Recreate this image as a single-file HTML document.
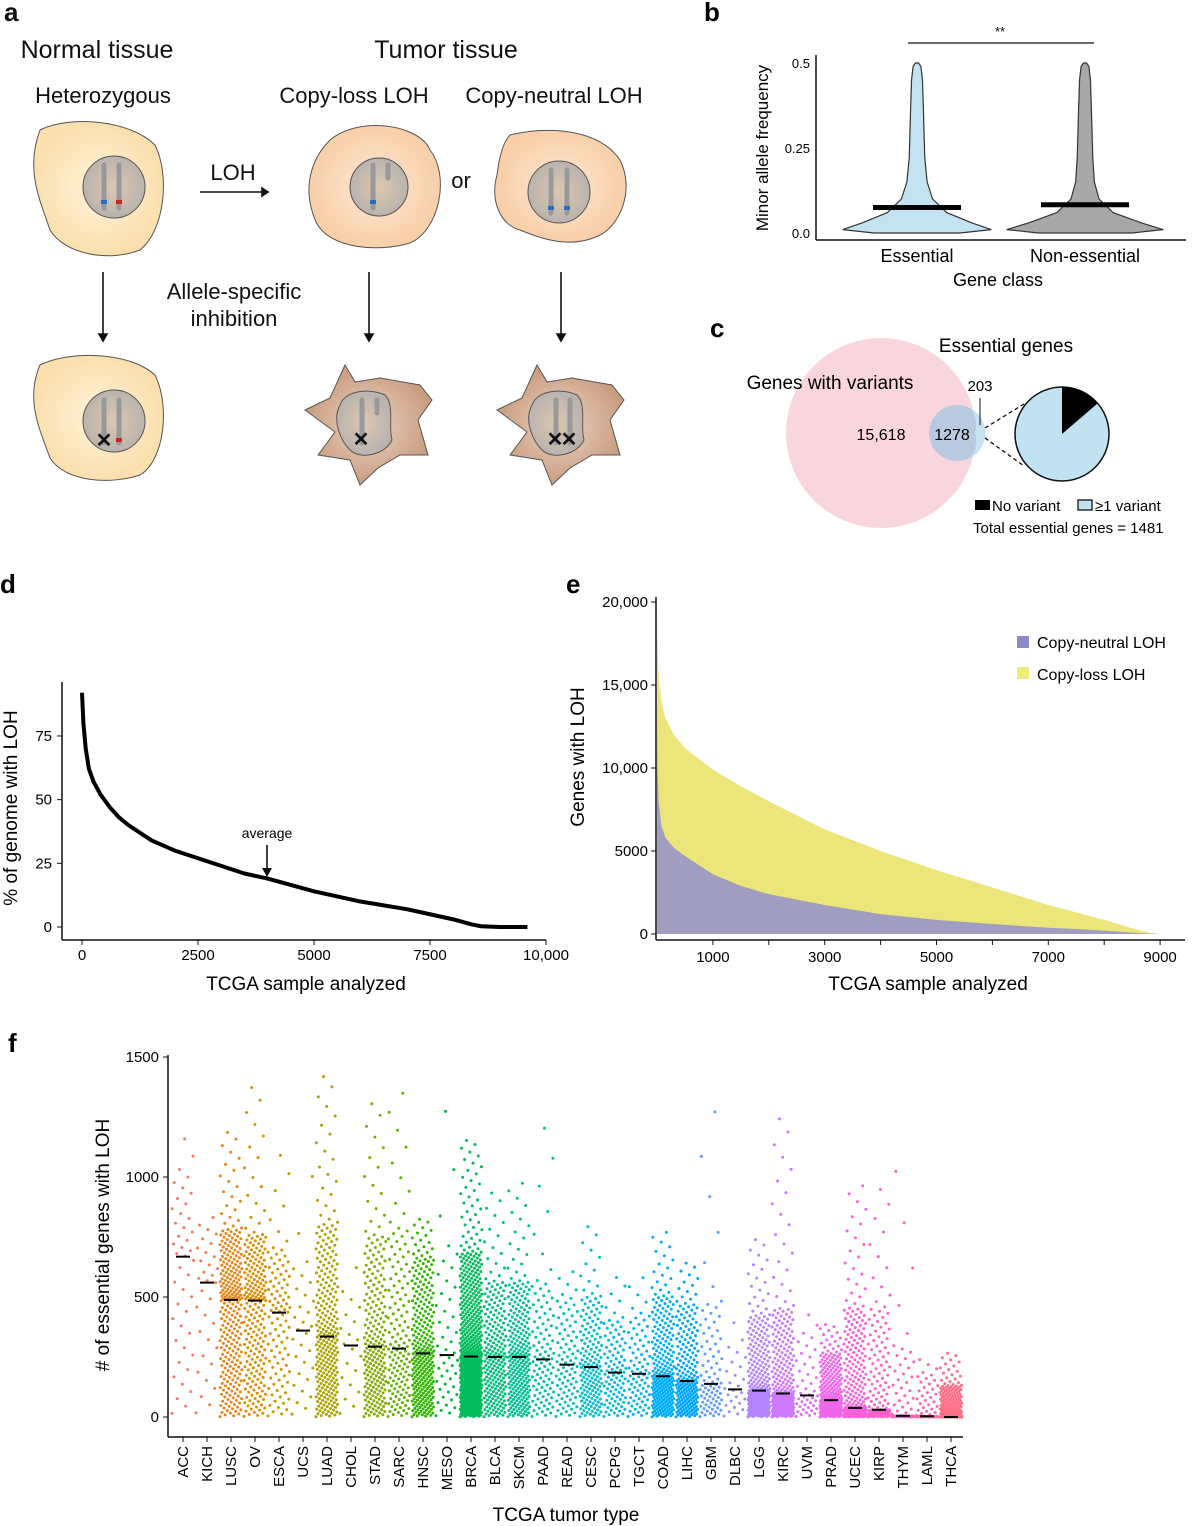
<!DOCTYPE html>
<html><head><meta charset="utf-8"><style>
body{margin:0;background:#fff}
svg{display:block;font-family:"Liberation Sans",Arial,sans-serif}
</style></head><body>
<svg id="fig" width="1200" height="1526" viewBox="0 0 1200 1526">
<defs>
<radialGradient id="gN"><stop offset="0" stop-color="#fff3da"/><stop offset="1" stop-color="#fbdfae"/></radialGradient>
<radialGradient id="gT"><stop offset="0" stop-color="#fde8d6"/><stop offset="1" stop-color="#f8cfa8"/></radialGradient>
<radialGradient id="gS"><stop offset="0" stop-color="#ecd3c2"/><stop offset="1" stop-color="#c99d80"/></radialGradient>
<radialGradient id="gNu"><stop offset="0" stop-color="#dcc8b0"/><stop offset="1" stop-color="#b9b3ad"/></radialGradient>
</defs>
<g id="panel-a" font-size="25" fill="#111">
<text x="4" y="21" font-weight="bold" font-size="26">a</text>
<text x="97" y="58" text-anchor="middle">Normal tissue</text>
<text x="446" y="58" text-anchor="middle">Tumor tissue</text>
<text x="103" y="103" text-anchor="middle" font-size="22">Heterozygous</text>
<text x="354" y="103" text-anchor="middle" font-size="22">Copy-loss LOH</text>
<text x="554" y="103" text-anchor="middle" font-size="22">Copy-neutral LOH</text>
<text x="233" y="180" text-anchor="middle" font-size="22">LOH</text>
<text x="461" y="188" text-anchor="middle" font-size="22">or</text>
<text x="234" y="299" text-anchor="middle" font-size="22">Allele-specific</text>
<text x="234" y="326" text-anchor="middle" font-size="22">inhibition</text>
<g stroke="#111" stroke-width="1.6" fill="none">
<line x1="200" y1="192" x2="262" y2="192"/><path d="M262 188 L268 192 L262 196Z" fill="#111"/>
<line x1="103" y1="272" x2="103" y2="336"/><path d="M99 334 L103 341 L107 334Z" fill="#111"/>
<line x1="369" y1="272" x2="369" y2="336"/><path d="M365 334 L369 341 L373 334Z" fill="#111"/>
<line x1="561" y1="272" x2="561" y2="336"/><path d="M557 334 L561 341 L565 334Z" fill="#111"/>
</g>
<g stroke="#555" stroke-width="1">
<path d="M40 130 C70 115 130 120 155 145 C170 175 165 230 140 250 C110 262 65 255 50 230 C40 200 25 170 40 130Z" fill="url(#gN)"/>
<path d="M330 140 C360 115 420 125 430 150 C450 175 440 230 410 243 C380 252 330 250 316 222 C302 190 310 160 330 140Z" fill="url(#gT)"/>
<path d="M510 135 C550 125 600 130 620 160 C635 190 620 225 600 235 C570 250 540 238 520 230 C500 225 490 200 497 175 C500 150 505 140 510 135Z" fill="url(#gT)"/>
<path d="M40 365 C70 350 130 352 155 375 C170 405 165 460 140 475 C110 485 65 482 50 458 C40 430 25 400 40 365Z" fill="url(#gN)"/>
<path d="M345 365 L355 382 L380 378 L420 385 L432 400 L418 420 L428 455 L400 455 L378 468 L360 485 L350 460 L318 455 L335 432 L305 410 L330 398Z" fill="url(#gS)"/>
<path d="M537 365 L547 382 L572 378 L612 385 L624 400 L610 420 L620 455 L592 455 L570 468 L552 485 L542 460 L510 455 L527 432 L497 410 L522 398Z" fill="url(#gS)"/>
<g fill="url(#gNu)">
<circle cx="114" cy="187" r="31"/><circle cx="379" cy="187" r="29"/><circle cx="559" cy="192" r="31"/><circle cx="114" cy="421" r="31"/>
<path d="M340 405 C345 390 370 388 385 395 C395 405 388 425 392 440 C385 455 360 460 350 450 C340 440 332 420 340 405Z"/>
<path d="M532 405 C537 390 562 388 577 395 C587 405 580 425 584 440 C577 455 552 460 542 450 C532 440 524 420 532 405Z"/>
</g></g>
<g stroke="#999" stroke-width="5" stroke-linecap="round">
<line x1="104" y1="165" x2="104" y2="208"/><line x1="119" y1="165" x2="119" y2="208"/>
<line x1="373" y1="165" x2="373" y2="208"/><line x1="388" y1="165" x2="388" y2="178"/>
<line x1="551" y1="170" x2="551" y2="213"/><line x1="567" y1="170" x2="567" y2="213"/>
<line x1="104" y1="400" x2="104" y2="443"/><line x1="119" y1="400" x2="119" y2="443"/>
<line x1="362" y1="400" x2="362" y2="443"/><line x1="377" y1="400" x2="377" y2="413"/>
<line x1="556" y1="400" x2="556" y2="443"/><line x1="570" y1="400" x2="570" y2="443"/>
</g>
<g><rect x="101" y="200" width="6" height="4" fill="#2a6bc4"/><rect x="116" y="200" width="6" height="4" fill="#d42020"/>
<rect x="370" y="200" width="6" height="4" fill="#2a6bc4"/>
<rect x="548" y="206" width="6" height="4" fill="#2a6bc4"/><rect x="564" y="206" width="6" height="4" fill="#2a6bc4"/>
<rect x="116" y="438" width="6" height="4" fill="#d42020"/></g>
<g font-size="20" text-anchor="middle" font-weight="bold"><text x="104" y="447">✕</text><text x="361" y="446">✕</text><text x="555" y="446">✕</text><text x="569" y="446">✕</text></g>
</g>

<g id="panel-b"></g>
<g id="panel-c"></g>
<g id="panel-d"></g>
<g id="panel-e"></g>
<g id="panel-f"></g>
</svg>
<script>
const NS="http://www.w3.org/2000/svg";
function mk(p,t,a,txt){const e=document.createElementNS(NS,t);for(const k in a)e.setAttribute(k,a[k]);if(txt!==undefined)e.textContent=txt;p.appendChild(e);return e;}

// ---------- Panel b data ----------
const bClasses=["Essential","Non-essential"];
const bMedians=[0.075,0.083];
const bProfileY=[0,0.01,0.03,0.06,0.1,0.15,0.22,0.3,0.38,0.45,0.49,0.5];
const bProfileW1=[0.55,0.95,0.7,0.38,0.2,0.13,0.1,0.09,0.08,0.07,0.05,0.02];
const bProfileW2=[0.6,1.0,0.72,0.36,0.18,0.12,0.1,0.09,0.08,0.07,0.05,0.02];
// ---------- Panel d data ----------
const dSamples=[0,30,80,150,250,400,600,800,1000,1500,2000,2500,3000,3500,4000,5000,6000,7000,7500,8000,8400,8600,9000,9600];
const dPct=[92,80,70,62,57,52,47,43,40,34,30,27,24,21,19,14,10,7,5,3,1,0.3,0,0];
// ---------- Panel e data ----------
const eSamples=[0,10,30,80,150,300,500,1000,1500,2000,3000,4000,5000,6000,7000,7500,8000,8500,8800,9000];
const eTotal=[20000,17500,15500,14000,13000,12000,11200,9900,8900,8000,6300,5000,3850,2800,1750,1300,850,350,80,0];
const eNeutral=[14000,10000,8000,6500,5800,5200,4700,3600,2900,2400,1750,1200,850,600,380,300,200,80,20,0];
// ---------- Panel f data ----------
const fTypes=["ACC","KICH","LUSC","OV","ESCA","UCS","LUAD","CHOL","STAD","SARC","HNSC","MESO","BRCA","BLCA","SKCM","PAAD","READ","CESC","PCPG","TGCT","COAD","LIHC","GBM","DLBC","LGG","KIRC","UVM","PRAD","UCEC","KIRP","THYM","LAML","THCA"];
const fMedian=[668,560,488,485,435,360,335,298,293,285,265,258,252,250,250,240,218,208,185,180,170,150,138,115,110,98,90,70,38,30,5,3,0];
const fP90=[1000,780,780,760,700,650,800,520,750,780,650,700,680,560,560,560,480,500,400,420,500,460,480,300,420,450,330,260,450,450,300,170,130];
const fMax=[1200,850,1200,1400,1130,1150,1440,700,1330,1390,830,1410,1160,950,990,1270,620,810,600,600,780,650,1370,440,750,1270,450,390,980,980,1140,250,270];
const fCount=[80,60,500,400,180,55,500,36,400,250,500,85,1000,400,450,180,160,300,180,150,450,370,150,48,500,500,80,490,530,280,120,120,500];

function hcl(h,c,l){
 const hr=h*Math.PI/180,u=c*Math.cos(hr),v=c*Math.sin(hr);
 const un=0.19784,vn=0.46834;
 const Y=l>8?Math.pow((l+16)/116,3):l/903.3;
 const up=u/(13*l)+un,vp=v/(13*l)+vn;
 const X=Y*9*up/(4*vp),Z=Y*(12-3*up-20*vp)/(4*vp);
 let r=3.2406*X-1.5372*Y-0.4986*Z,g=-0.9689*X+1.8758*Y+0.0415*Z,b=0.0557*X-0.2040*Y+1.0570*Z;
 const f=x=>{x=x<=0.0031308?12.92*x:1.055*Math.pow(x,1/2.4)-0.055;return Math.round(Math.max(0,Math.min(1,x))*255);};
 return `rgb(${f(r)},${f(g)},${f(b)})`;
}

// ===== Panel b =====
(function(){
const g=document.getElementById('panel-b');
const y=v=>233-v*340, xs=[917,1085], wScale=78;
mk(g,'text',{x:704,y:21,'font-size':26,'font-weight':'bold'},'b');
mk(g,'line',{x1:816,y1:55,x2:816,y2:240,stroke:'#111','stroke-width':1.5});
mk(g,'line',{x1:816,y1:240,x2:1186,y2:240,stroke:'#111','stroke-width':1.5});
[0,0.25,0.5].forEach(t=>{const tt=mk(g,'text',{x:810,y:y(t)+5,'text-anchor':'end','font-size':13},t===0?'0.0':String(t));});
const yt=mk(g,'text',{x:0,y:0,'font-size':17,'text-anchor':'middle',transform:'translate(768,148) rotate(-90)'},'Minor allele frequency');

bClasses.forEach((c,i)=>{
 const prof=i===0?bProfileW1:bProfileW2; const cx=xs[i];
 let d='';
 bProfileY.forEach((v,k)=>{d+=(k?'L':'M')+(cx+prof[k]*wScale)+' '+y(v)+' ';});
 for(let k=bProfileY.length-1;k>=0;k--)d+='L'+(cx-prof[k]*wScale)+' '+y(bProfileY[k])+' ';
 const v=mk(g,'path',{d:d+'Z',fill:i===0?'#c4e3f1':'#a8a8a8',stroke:'#333','stroke-width':1.2,'stroke-linejoin':'round'});
 
 const m=mk(g,'line',{x1:cx-44,x2:cx+44,y1:y(bMedians[i]),y2:y(bMedians[i]),stroke:'#000','stroke-width':5});
 
 const l=mk(g,'text',{x:cx,y:262,'text-anchor':'middle','font-size':18},c);
 
});
mk(g,'text',{x:998,y:286,'text-anchor':'middle','font-size':18},'Gene class');
mk(g,'line',{x1:908,y1:43,x2:1094,y2:43,stroke:'#111','stroke-width':1.2});
mk(g,'text',{x:1000,y:36,'text-anchor':'middle','font-size':13},'**');
})();

// ===== Panel c =====
(function(){
const g=document.getElementById('panel-c');
mk(g,'text',{x:710,y:337,'font-size':26,'font-weight':'bold'},'c');
const c1=mk(g,'circle',{cx:881,cy:433,r:95,fill:'#f9d6de'});
const c2=mk(g,'circle',{cx:957,cy:433,r:28,fill:'#b9c9e0'});
mk(g,'path',{d:'M970 408 A28 28 0 0 1 970 458 A28 28 0 0 0 975 433 A28 28 0 0 0 970 408Z',fill:'#c6e2f0'});
mk(g,'text',{x:1006,y:352,'text-anchor':'middle','font-size':19},'Essential genes');
mk(g,'text',{x:830,y:389,'text-anchor':'middle','font-size':19},'Genes with variants');
mk(g,'text',{x:881,y:440,'text-anchor':'middle','font-size':16},'15,618');
mk(g,'text',{x:952,y:440,'text-anchor':'middle','font-size':16},'1278');
mk(g,'text',{x:980,y:391,'text-anchor':'middle','font-size':15},'203');
mk(g,'line',{x1:980,y1:398,x2:980,y2:425,stroke:'#111','stroke-width':1});
mk(g,'line',{x1:985,y1:428,x2:1024,y2:404,stroke:'#111','stroke-width':1.3,'stroke-dasharray':'4,3'});
mk(g,'line',{x1:985,y1:438,x2:1024,y2:466,stroke:'#111','stroke-width':1.3,'stroke-dasharray':'4,3'});
const pc=[1062,434],pr=47,frac=203/1481,a=frac*2*Math.PI;
mk(g,'circle',{cx:pc[0],cy:pc[1],r:pr,fill:'#c1e2f1',stroke:'#111','stroke-width':1.5});
const ex=pc[0]+pr*Math.sin(a),ey=pc[1]-pr*Math.cos(a);
const s=mk(g,'path',{d:`M${pc[0]} ${pc[1]} L${pc[0]} ${pc[1]-pr} A${pr} ${pr} 0 0 1 ${ex} ${ey}Z`,fill:'#000'});

mk(g,'rect',{x:975,y:500,width:15,height:10,fill:'#000'});
mk(g,'text',{x:992,y:511,'font-size':15},'No variant');
mk(g,'rect',{x:1078,y:500,width:14,height:10,fill:'#c1e2f1',stroke:'#111','stroke-width':1.3});
mk(g,'text',{x:1095,y:511,'font-size':15},'≥1 variant');
mk(g,'text',{x:973,y:533,'font-size':15},'Total essential genes = 1481');
})();

// ===== Panel d =====
(function(){
const g=document.getElementById('panel-d');
const x=v=>82+v*0.0464, y=v=>927-v*2.547;
mk(g,'text',{x:0,y:593,'font-size':26,'font-weight':'bold'},'d');
mk(g,'line',{x1:62,y1:682,x2:62,y2:940,stroke:'#111','stroke-width':1.5});
mk(g,'line',{x1:62,y1:940,x2:546,y2:940,stroke:'#111','stroke-width':1.5});
[0,25,50,75].forEach(t=>{mk(g,'line',{x1:57,x2:62,y1:y(t),y2:y(t),stroke:'#111'});const e=mk(g,'text',{x:52,y:y(t)+5,'text-anchor':'end','font-size':15},String(t));});
[0,2500,5000,7500,10000].forEach(t=>{mk(g,'line',{x1:x(t),x2:x(t),y1:940,y2:945,stroke:'#111'});const e=mk(g,'text',{x:x(t),y:960,'text-anchor':'middle','font-size':15},t===10000?'10,000':String(t));});
mk(g,'text',{x:306,y:990,'text-anchor':'middle','font-size':19},'TCGA sample analyzed');
mk(g,'text',{x:0,y:0,'text-anchor':'middle','font-size':19,transform:'translate(17,808) rotate(-90)'},'% of genome with LOH');
const p=mk(g,'path',{d:dSamples.map((s,i)=>(i?'L':'M')+x(s)+' '+y(dPct[i])).join(' '),fill:'none',stroke:'#000','stroke-width':4,'stroke-linejoin':'round'});

mk(g,'text',{x:267,y:838,'text-anchor':'middle','font-size':14},'average');
mk(g,'line',{x1:267,y1:845,x2:267,y2:870,stroke:'#111','stroke-width':1.6});
mk(g,'path',{d:'M262 868 L267 877 L272 868Z',fill:'#111'});
})();

// ===== Panel e =====
(function(){
const g=document.getElementById('panel-e');
const x=v=>657+v*0.0559, y=v=>934-v*0.0166;
mk(g,'text',{x:566,y:593,'font-size':26,'font-weight':'bold'},'e');
const area=(arr)=>'M'+x(0)+' '+y(0)+' '+eSamples.map((s,i)=>'L'+x(s)+' '+y(arr[i])).join(' ')+' L'+x(eSamples[eSamples.length-1])+' '+y(0)+'Z';
const a1=mk(g,'path',{d:area(eTotal),fill:'#ece67a'});
const a2=mk(g,'path',{d:area(eNeutral),fill:'#a19dc0'});
mk(g,'line',{x1:656,y1:597,x2:656,y2:940,stroke:'#111','stroke-width':1.5});
mk(g,'line',{x1:656,y1:940,x2:1185,y2:940,stroke:'#111','stroke-width':1.5});
[0,5000,10000,15000,20000].forEach(t=>{mk(g,'line',{x1:651,x2:656,y1:y(t),y2:y(t),stroke:'#111'});const e=mk(g,'text',{x:648,y:y(t)+5,'text-anchor':'end','font-size':15},t>=10000?t.toLocaleString('en-US'):String(t));});
[1000,2000,3000,4000,5000,6000,7000,8000,9000].forEach((t,i)=>{mk(g,'line',{x1:x(t),x2:x(t),y1:940,y2:945,stroke:'#111'});if(i%2===0){const e=mk(g,'text',{x:x(t),y:962,'text-anchor':'middle','font-size':15},String(t));}});
mk(g,'text',{x:928,y:990,'text-anchor':'middle','font-size':19},'TCGA sample analyzed');
mk(g,'text',{x:0,y:0,'text-anchor':'middle','font-size':19,transform:'translate(584,757) rotate(-90)'},'Genes with LOH');
mk(g,'rect',{x:1017,y:636,width:12,height:12,fill:'#8d8ac6'});
mk(g,'text',{x:1037,y:648,'font-size':16},'Copy-neutral LOH');
mk(g,'rect',{x:1017,y:667,width:12,height:12,fill:'#f0eb7c'});
mk(g,'text',{x:1037,y:680,'font-size':16},'Copy-loss LOH');
})();

// ===== Panel f =====
(function(){
const g=document.getElementById('panel-f');
const y=v=>1417-v*0.24, x=i=>183+i*24;
mk(g,'text',{x:8,y:1052,'font-size':26,'font-weight':'bold'},'f');
const n=fTypes.length;
fTypes.forEach((t,i)=>{
 const col=hcl(15+i*360/n,100,65);
 const N=Math.round(fCount[i]*0.55);
 for(let k=0;k<N;k++){
  const q=(k+0.5)/N; let v;
  if(q<0.5) v=fMedian[i]*(2*q);
  else if(q<0.92) v=fMedian[i]+(fP90[i]-fMedian[i])*Math.pow((q-0.5)/0.42,1.3);
  else v=fP90[i]+(fMax[i]-fP90[i])*Math.pow((q-0.92)/0.08,1.5);
  const jx=((k*0.618034)%1-0.5)*22;
  const c=mk(g,'circle',{cx:x(i)+jx,cy:y(v),r:1.5,fill:col});
  
  
 }
});
fTypes.forEach((t,i)=>{
 const m=mk(g,'line',{x1:x(i)-7,x2:x(i)+7,y1:y(fMedian[i]),y2:y(fMedian[i]),stroke:'#000','stroke-width':2});
 
 mk(g,'line',{x1:x(i),x2:x(i),y1:1437,y2:1442,stroke:'#111'});
 const l=mk(g,'text',{x:0,y:0,'font-size':15,'text-anchor':'end',transform:`translate(${x(i)+5},1446) rotate(-90)`},t);
 
});
mk(g,'line',{x1:168,y1:1055,x2:168,y2:1437,stroke:'#111','stroke-width':1.5});
mk(g,'line',{x1:168,y1:1437,x2:963,y2:1437,stroke:'#111','stroke-width':1.5});
[0,500,1000,1500].forEach(t=>{mk(g,'line',{x1:163,x2:168,y1:y(t),y2:y(t),stroke:'#111'});const e=mk(g,'text',{x:159,y:y(t)+5,'text-anchor':'end','font-size':15},String(t));});
mk(g,'text',{x:566,y:1521,'text-anchor':'middle','font-size':19},'TCGA tumor type');
mk(g,'text',{x:0,y:0,'text-anchor':'middle','font-size':19,transform:'translate(109,1245) rotate(-90)'},'# of essential genes with LOH');
})();
</script>
</body></html>
